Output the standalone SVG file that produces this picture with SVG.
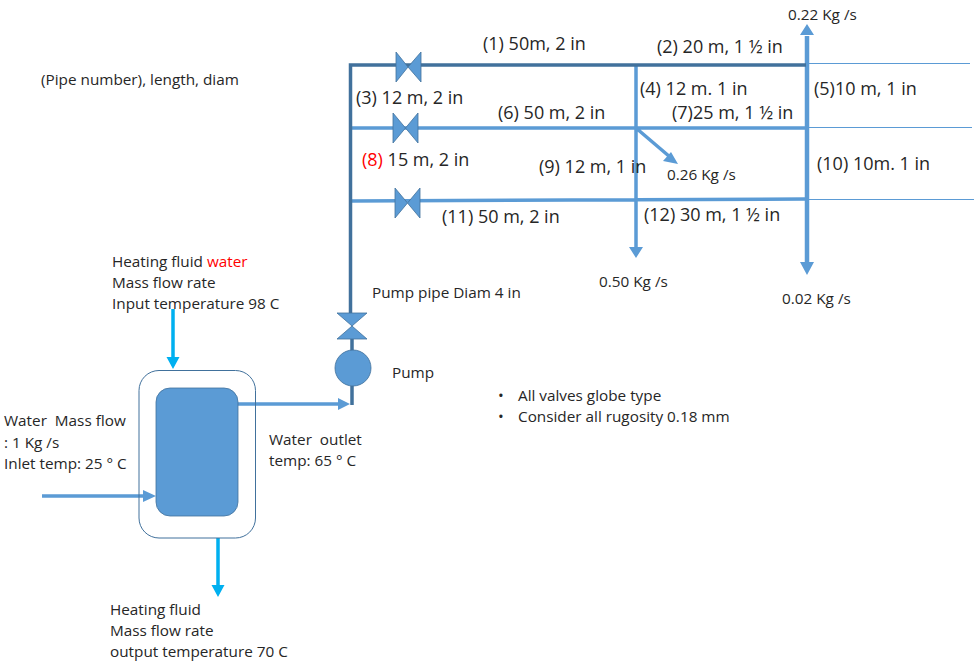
<svg xmlns="http://www.w3.org/2000/svg" width="974" height="666" viewBox="0 0 974 666">
<style>
text{font-family:"Open Sans","Noto Sans","Liberation Sans",sans-serif;fill:#262626;font-size:15.3px;white-space:pre}
.b{font-size:18px}
.r{fill:#ff0000}
.dark{stroke:#41719c;fill:none;stroke-width:3.5}
.pipe{stroke:#5b9bd5;fill:none;stroke-width:3.5}
.wide{stroke:#5b9bd5;fill:none;stroke-width:4.5}
.thin{stroke:#5b9bd5;fill:none;stroke-width:1}
.cy{stroke:#00b0f0;fill:none;stroke-width:3.5}
.cyh{fill:#00b0f0}
.h{fill:#5b9bd5}
.v{fill:#5b9bd5;stroke:#41719c;stroke-width:.8}
</style>
<rect width="974" height="666" fill="#fff"/>
<g id="connectors">
<path class="thin" d="M806 63.500H970M806 127.500H972M806 199.500H974"/>
<path class="pipe" d="M350 128H806M350 201L806 199M636 65V248M636 128L670 157M238 404H340M42 496H145"/>
<path class="wide" d="M807 36V263"/>
<path class="dark" d="M350.500 313V65H806M352 338V352M352 386V405"/>
<path class="cy" d="M173 309V358M218 538V586"/>
<path class="h" d="M636 258l-7-11h14zM807 24l-7 11h14zM807 275l-7-13h14zM678 164l-15-3 8-9zM350 404l-12-6v12zM156 496l-13-6v12z"/>
<path class="cyh" d="M173 369l-6.500-12h13zM218 597l-6.500-12h13z"/>
</g>
<g id="valve-1"><path class="v" d="M396 52L408 67L396 82ZM421 52L408 67L421 82Z"/></g>
<g id="valve-2"><path class="v" d="M393 113L405.500 128L393 143ZM418 113L405.500 128L418 143Z"/></g>
<g id="valve-3"><path class="v" d="M395 188L407.500 203L395 218ZM420 188L407.500 203L420 218Z"/></g>
<g id="valve-4"><path class="v" d="M337 313H367L352 326ZM337 339H367L352 326Z"/></g>
<g id="pump"><circle class="v" cx="353" cy="368" r="18"/><text x="392" y="378">Pump</text></g>
<g id="exchanger">
<rect x="139" y="370.500" width="116.500" height="167.500" rx="20" fill="none" stroke="#41719c"/>
<rect class="v" x="156" y="388" width="82" height="128" rx="14"/>
</g>
<g id="labels">
<text class="b" x="483" y="50">(1) 50m, 2 in</text>
<text class="b" x="657" y="53">(2) 20 m, 1 ½ in</text>
<text class="b" x="356" y="104">(3) 12 m, 2 in</text>
<text class="b" x="640" y="95">(4) 12 m. 1 in</text>
<text class="b" x="814" y="95">(5)10 m, 1 in</text>
<text class="b" x="498" y="119">(6) 50 m, 2 in</text>
<text class="b" x="672" y="119">(7)25 m, 1 ½ in</text>
<text class="b" x="362" y="166"><tspan class="r">(8)</tspan> 15 m, 2 in</text>
<text class="b" x="539" y="173">(9) 12 m, 1 in</text>
<text class="b" x="817" y="170">(10) 10m. 1 in</text>
<text class="b" x="442" y="223">(11) 50 m, 2 in</text>
<text class="b" x="644" y="221">(12) 30 m, 1 ½ in</text>
<text x="788" y="20">0.22 Kg /s</text>
<text x="667" y="180">0.26 Kg /s</text>
<text x="599" y="287">0.50 Kg /s</text>
<text x="782" y="304">0.02 Kg /s</text>
<text x="41" y="85">(Pipe number), length, diam</text>
<text x="372" y="298">Pump pipe Diam 4 in</text>
<text x="112" y="267">Heating fluid <tspan class="r">water</tspan></text>
<text x="112" y="288">Mass flow rate</text>
<text x="112" y="309">Input temperature 98 C</text>
<text x="4" y="426">Water  Mass flow</text>
<text x="4" y="448">: 1 Kg /s</text>
<text x="4" y="469">Inlet temp: 25 ° C</text>
<text x="269" y="445">Water  outlet</text>
<text x="269" y="466">temp: 65 ° C</text>
<text x="110" y="615">Heating fluid</text>
<text x="110" y="636">Mass flow rate</text>
<text x="110" y="657">output temperature 70 C</text>
<text x="498" y="401">•</text><text x="518" y="401">All valves globe type</text>
<text x="498" y="422">•</text><text x="518" y="422">Consider all rugosity 0.18 mm</text>
</g>
</svg>
